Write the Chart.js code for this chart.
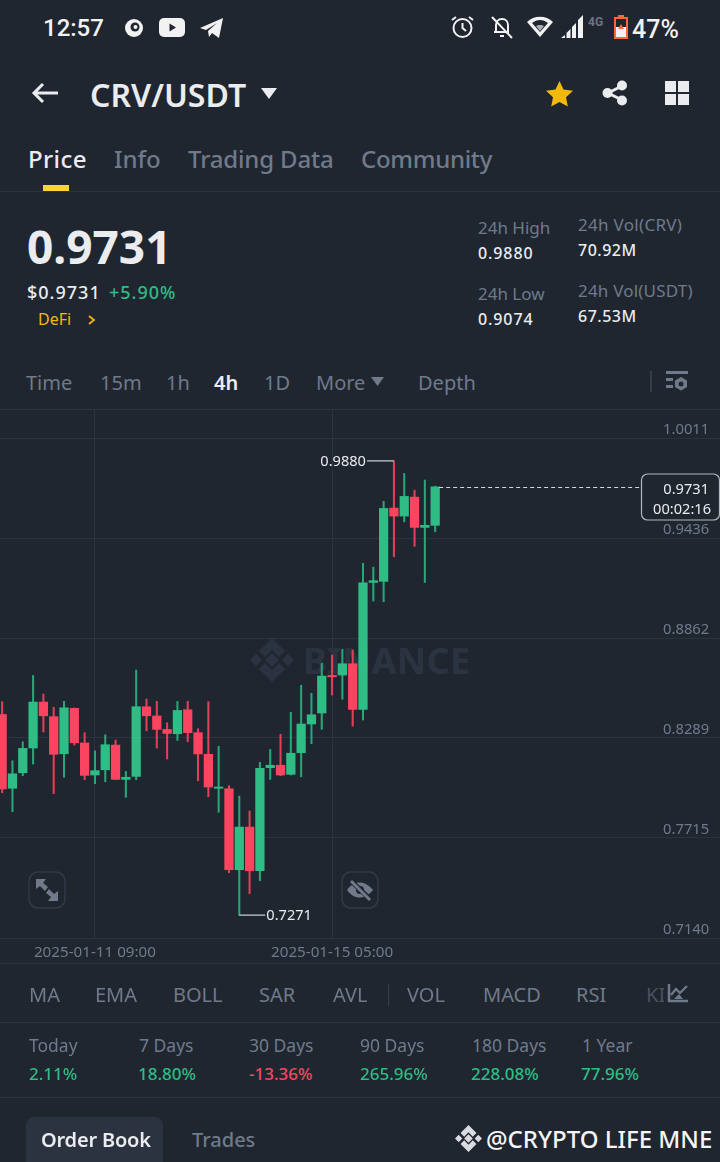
<!DOCTYPE html>
<html><head><meta charset="utf-8">
<style>
html,body{margin:0;padding:0;background:#1f2630;}
body{width:720px;height:1162px;overflow:hidden;position:relative;font-family:"Noto Sans",sans-serif;}
.t{position:absolute;white-space:nowrap;transform:translateY(-50%);line-height:1;}
.s{position:absolute;height:1px;left:0;width:720px;background:#2c3340;}
.g{color:#707a8a}.w{color:#eaecef}.up{color:#2ebd85}.dn{color:#f6465d}
svg{position:absolute;overflow:visible}
canvas{position:absolute;left:-3px;top:409px;}
</style></head><body>

<div class="t" style="left:43px;top:28px;font:500 24px Roboto;color:#f2f2f2">12:57</div>
<svg style="left:124px;top:18px" width="20" height="20" viewBox="0 0 20 20"><circle cx="10" cy="10" r="9" fill="#f2f2f2"/><circle cx="11" cy="9" r="4.5" fill="#1f2630"/><circle cx="11.5" cy="9" r="2" fill="#f2f2f2"/></svg>
<svg style="left:159px;top:18px" width="26" height="19" viewBox="0 0 26 19"><rect width="26" height="19" rx="5" fill="#f2f2f2"/><path d="M10.500 5.500L17 9.500L10.500 13.500Z" fill="#1f2630"/></svg>
<svg style="left:200px;top:18px" width="23" height="20" viewBox="0 0 23 20"><path d="M0 10L23 0L19 20L12 15L9 19L8 13L17 5L6 12Z" fill="#f2f2f2"/></svg>
<svg style="left:451px;top:15px" width="24" height="24" viewBox="0 0 24 24" fill="none" stroke="#f2f2f2" stroke-width="2"><circle cx="11.500" cy="13" r="9"/><path d="M11.500 8V13L15 16M1 5L5 2M22 5L18 2"/></svg>
<svg style="left:491px;top:15px" width="22" height="24" viewBox="0 0 22 24" fill="none" stroke="#f2f2f2" stroke-width="2"><path d="M5 17V10C5 7 7 4 11 4C15 4 17 7 17 10V17H3M9 21H13M1 2L21 23"/></svg>
<svg style="left:527px;top:15px" width="26" height="22" viewBox="0 0 26 22"><path d="M0 7C7 0 19 0 26 7L13 22Z" fill="#f2f2f2"/><path d="M5 8C10 4 16 4 21 8L13 17Z" fill="#1f2630"/><path d="M9 11C11 9.500 15 9.500 17 11L13 16Z" fill="#aab0b8"/></svg>
<svg style="left:561px;top:15px" width="23" height="23" viewBox="0 0 23 23"><path d="M0 23L4 20V23ZM5.500 23V18L9.500 14V23ZM11 23V12L15 8V23ZM17 23V5L22 0V23Z" fill="#f2f2f2"/></svg>
<div class="t" style="left:588px;top:22px;font:700 12px Roboto;color:#6d7480">4G</div>
<svg style="left:614px;top:15px" width="14" height="24" viewBox="0 0 14 24"><path d="M4 0H10V2H14V24H0V2H4Z" fill="#f4683c"/><rect x="2" y="4" width="10" height="8" fill="#1f2630"/><rect x="2" y="12" width="10" height="10" fill="#f2f2f2"/><path d="M7 9L10 14H4Z" fill="#f4683c"/></svg>
<div class="t" style="left:632px;top:29px;font:500 25px Roboto;color:#f2f2f2">47%</div>

<svg style="left:32px;top:82px" width="26" height="22" viewBox="0 0 26 22" fill="none" stroke="#eaecef" stroke-width="3"><path d="M26 11H2M11 2L2 11L11 20"/></svg>
<div class="t" style="left:90px;top:94px;font:600 32px 'Noto Sans';color:#eaecef">CRV/USDT</div>
<svg style="left:261px;top:88px" width="16" height="11" viewBox="0 0 16 11"><path d="M0 0H16L8 11Z" fill="#eaecef"/></svg>
<svg style="left:546px;top:80px" width="27" height="27" viewBox="0 0 27 27"><path d="M13.500 1L17.500 9.500L27 10.800L20 17.300L21.800 26.500L13.500 22L5.200 26.500L7 17.300L0 10.800L9.500 9.500Z" fill="#f0b90b"/></svg>
<svg style="left:602px;top:80px" width="26" height="26" viewBox="0 0 26 26"><path d="M20 6L6 13L20 20" stroke="#eaecef" stroke-width="3" fill="none"/><circle cx="20" cy="5.500" r="5" fill="#eaecef"/><circle cx="5.500" cy="13" r="5" fill="#eaecef"/><circle cx="20" cy="20.500" r="5" fill="#eaecef"/></svg>
<svg style="left:665px;top:81px" width="24" height="24" viewBox="0 0 24 24"><path d="M0 0H11V11H0ZM13 0H24V11H13ZM0 13H11V24H0ZM13 13H24V24H13Z" fill="#eaecef"/></svg>

<div class="t w" style="left:28px;top:158px;font:500 24px 'Noto Sans';letter-spacing:.4px">Price</div>
<div class="t g" style="left:114px;top:158px;font:500 24px 'Noto Sans'">Info</div>
<div class="t g" style="left:188px;top:158px;font:500 24px 'Noto Sans';letter-spacing:-.15px">Trading Data</div>
<div class="t g" style="left:361px;top:158px;font:500 24px 'Noto Sans';letter-spacing:-.3px">Community</div>
<div style="position:absolute;left:43px;top:185px;width:26px;height:6px;background:#fcd535"></div>
<div class="s" style="top:191px"></div>

<div class="t" style="left:27px;top:246px;font:700 46px 'Noto Sans';color:#eaecef">0.9731</div>
<div class="t w" style="left:27px;top:292px;font:500 18px 'Noto Sans';letter-spacing:1px">$0.9731</div>
<div class="t up" style="left:109px;top:292px;font:500 18px 'Noto Sans';letter-spacing:1px">+5.90%</div>
<div class="t" style="left:38px;top:319px;font:400 16px 'Noto Sans';color:#f0b90b">DeFi</div>
<svg style="left:88px;top:315px" width="7" height="10" viewBox="0 0 7 10" fill="none" stroke="#f0b90b" stroke-width="1.800"><path d="M1 1L6 5L1 9"/></svg>
<div class="t g" style="left:478px;top:227px;font:400 17px 'Noto Sans'">24h High</div>
<div class="t w" style="left:478px;top:253px;font:500 16px 'Noto Sans';letter-spacing:.9px">0.9880</div>
<div class="t g" style="left:478px;top:293px;font:400 17px 'Noto Sans'">24h Low</div>
<div class="t w" style="left:478px;top:319px;font:500 16px 'Noto Sans';letter-spacing:.9px">0.9074</div>
<div class="t g" style="left:578px;top:224px;font:400 17px 'Noto Sans';letter-spacing:.3px">24h Vol(CRV)</div>
<div class="t w" style="left:578px;top:250px;font:500 16px 'Noto Sans';letter-spacing:.5px">70.92M</div>
<div class="t g" style="left:578px;top:290px;font:400 17px 'Noto Sans';letter-spacing:.2px">24h Vol(USDT)</div>
<div class="t w" style="left:578px;top:316px;font:500 16px 'Noto Sans';letter-spacing:.5px">67.53M</div>

<div class="t g" style="left:26px;top:382px;font:400 20px 'Noto Sans'">Time</div>
<div class="t g" style="left:100px;top:382px;font:400 20px 'Noto Sans'">15m</div>
<div class="t g" style="left:166px;top:382px;font:400 20px 'Noto Sans'">1h</div>
<div class="t w" style="left:214px;top:382px;font:600 20px 'Noto Sans'">4h</div>
<div class="t g" style="left:264px;top:382px;font:400 20px 'Noto Sans'">1D</div>
<div class="t g" style="left:316px;top:382px;font:400 20px 'Noto Sans'">More</div>
<svg style="left:371px;top:377px" width="13" height="9" viewBox="0 0 13 9"><path d="M0 0H13L6.500 9Z" fill="#707a8a"/></svg>
<div class="t g" style="left:418px;top:382px;font:400 20px 'Noto Sans'">Depth</div>
<div style="position:absolute;left:650px;top:371px;width:2px;height:21px;background:#363d4a"></div>
<svg style="left:666px;top:371px" width="22" height="22" viewBox="0 0 22 22"><path d="M0 0H22V3H0ZM0 7H7V10H0ZM0 14H7V17H0Z" fill="#707a8a"/><path d="M15 6L21 9.500V16L15 19.500L9 16V9.500Z" fill="#707a8a"/><circle cx="15" cy="13" r="2.500" fill="#1f2630"/></svg>
<div class="s" style="top:409px"></div>

<div class="t" style="left:303px;top:660px;font:700 36px 'Noto Sans';letter-spacing:.4px;color:#2c3340">BINANCE</div>
<svg style="left:250px;top:638px" width="44" height="44" viewBox="0 0 44 44" fill="#2c3340"><path d="M22 0L35 13L29 19L22 12L15 19L9 13ZM22 44L9 31L15 25L22 32L29 25L35 31ZM0 22L6 16L12 22L6 28ZM32 22L38 16L44 22L38 28ZM22 15L29 22L22 29L15 22Z"/></svg>

<canvas id="kline" width="732" height="554" style="width:732px;height:554px"></canvas>

<svg style="left:28px;top:871px" width="38" height="38" viewBox="0 0 38 38"><rect x="1" y="1" width="36" height="36" rx="9" fill="#1f2630" fill-opacity=".7" stroke="#333a47" stroke-width="1.500"/><path d="M8 8H18L15 12L20 16L17 20L12 15L8 18ZM30 30H20L23 26L18 22L21 18L26 23L30 20Z" fill="#707a8a"/></svg>
<svg style="left:341px;top:871px" width="38" height="38" viewBox="0 0 38 38"><rect x="1" y="1" width="36" height="36" rx="9" fill="#1f2630" fill-opacity=".7" stroke="#333a47" stroke-width="1.500"/><path d="M6 19C13 9 24 9 32 19C24 29 13 29 6 19Z" fill="#707a8a"/><circle cx="19" cy="19" r="4" fill="#1f2630"/><path d="M9 9L30 29" stroke="#1f2630" stroke-width="5"/><path d="M10 10L29 29" stroke="#707a8a" stroke-width="3"/></svg>

<div class="s" style="top:963px"></div>
<div class="t g" style="left:29px;top:994px;font:400 20px 'Noto Sans'">MA</div>
<div class="t g" style="left:95px;top:994px;font:400 20px 'Noto Sans'">EMA</div>
<div class="t g" style="left:173px;top:994px;font:400 20px 'Noto Sans'">BOLL</div>
<div class="t g" style="left:259px;top:994px;font:400 20px 'Noto Sans'">SAR</div>
<div class="t g" style="left:333px;top:994px;font:400 20px 'Noto Sans'">AVL</div>
<div style="position:absolute;left:388px;top:984px;width:1px;height:22px;background:#363d4a"></div>
<div class="t g" style="left:407px;top:994px;font:400 20px 'Noto Sans'">VOL</div>
<div class="t g" style="left:483px;top:994px;font:400 20px 'Noto Sans'">MACD</div>
<div class="t g" style="left:576px;top:994px;font:400 20px 'Noto Sans'">RSI</div>
<div class="t" style="left:646px;top:994px;font:400 20px 'Noto Sans';color:#4a515e">KI</div>
<div style="position:absolute;left:664px;top:980px;width:30px;height:26px;background:#1f2630"></div>
<svg style="left:668px;top:984px" width="20" height="19" viewBox="0 0 20 19"><path d="M1 0V17H20" stroke="#707a8a" stroke-width="2.500" fill="none"/><path d="M3 11L8 5L12 9L19 2" stroke="#707a8a" stroke-width="2.200" fill="none"/><path d="M6 15L11 10L15 15Z" fill="#707a8a"/></svg>
<div class="s" style="top:1022px"></div>

<div class="t g" style="left:29px;top:1045px;font:400 17.500px 'Noto Sans'">Today</div>
<div class="t up" style="left:29px;top:1073px;font:500 17px 'Noto Sans'">2.11%</div>
<div class="t g" style="left:139px;top:1045px;font:400 17.500px 'Noto Sans'">7 Days</div>
<div class="t up" style="left:138px;top:1073px;font:500 17px 'Noto Sans'">18.80%</div>
<div class="t g" style="left:249px;top:1045px;font:400 17.500px 'Noto Sans'">30 Days</div>
<div class="t dn" style="left:249px;top:1073px;font:500 17px 'Noto Sans'">-13.36%</div>
<div class="t g" style="left:360px;top:1045px;font:400 17.500px 'Noto Sans'">90 Days</div>
<div class="t up" style="left:360px;top:1073px;font:500 17px 'Noto Sans'">265.96%</div>
<div class="t g" style="left:472px;top:1045px;font:400 17.500px 'Noto Sans'">180 Days</div>
<div class="t up" style="left:471px;top:1073px;font:500 17px 'Noto Sans'">228.08%</div>
<div class="t g" style="left:582px;top:1045px;font:400 17.500px 'Noto Sans'">1 Year</div>
<div class="t up" style="left:581px;top:1073px;font:500 17px 'Noto Sans'">77.96%</div>
<div class="s" style="top:1097px"></div>

<div style="position:absolute;left:26px;top:1117px;width:137px;height:60px;border-radius:8px;background:#2b3340"></div>
<div class="t w" style="left:41px;top:1139px;font:600 20px 'Noto Sans';letter-spacing:-.2px">Order Book</div>
<div class="t g" style="left:192px;top:1139px;font:500 20px 'Noto Sans'">Trades</div>
<svg style="left:455px;top:1125px" width="27" height="27" viewBox="0 0 44 44" fill="#d8dbe0"><path d="M22 0L35 13L29 19L22 12L15 19L9 13ZM22 44L9 31L15 25L22 32L29 25L35 31ZM0 22L6 16L12 22L6 28ZM32 22L38 16L44 22L38 28ZM22 15L29 22L22 29L15 22Z"/></svg>
<div class="t" style="left:486px;top:1138px;font:500 24px 'Noto Sans';color:#f5f5f5">@CRYPTO LIFE MNE</div>

<script src="https://cdn.jsdelivr.net/npm/chart.js@4/dist/chart.umd.js"></script>
<script>
const candleTimes = [
 '2025-01-09 21:00','2025-01-10 01:00','2025-01-10 05:00','2025-01-10 09:00','2025-01-10 13:00','2025-01-10 17:00','2025-01-10 21:00',
 '2025-01-11 01:00','2025-01-11 05:00','2025-01-11 09:00','2025-01-11 13:00','2025-01-11 17:00','2025-01-11 21:00',
 '2025-01-12 01:00','2025-01-12 05:00','2025-01-12 09:00','2025-01-12 13:00','2025-01-12 17:00','2025-01-12 21:00',
 '2025-01-13 01:00','2025-01-13 05:00','2025-01-13 09:00','2025-01-13 13:00','2025-01-13 17:00','2025-01-13 21:00',
 '2025-01-14 01:00','2025-01-14 05:00','2025-01-14 09:00','2025-01-14 13:00','2025-01-14 17:00','2025-01-14 21:00',
 '2025-01-15 01:00','2025-01-15 05:00','2025-01-15 09:00','2025-01-15 13:00','2025-01-15 17:00','2025-01-15 21:00',
 '2025-01-16 01:00','2025-01-16 05:00','2025-01-16 09:00','2025-01-16 13:00','2025-01-16 17:00','2025-01-16 21:00'];
const opens  = [.8424,.8000,.8089,.8231,.8495,.8411,.8198,.8459,.8260,.8076,.8106,.8248,.8051,.8068,.8468,.8415,.8338,.8313,.8451,.8319,.8195,.8000,.7997,.7532,.7777,.7526,.8118,.8132,.8080,.8204,.8369,.8432,.8648,.8650,.8715,.8453,.9182,.9188,.9609,.9563,.9672,.9498,.9510];
const closes = [.7996,.8083,.8229,.8495,.8416,.8195,.8462,.8261,.8074,.8101,.8250,.8051,.8063,.8468,.8416,.8338,.8315,.8447,.8319,.8197,.8007,.8007,.7532,.7777,.7526,.8114,.8132,.8076,.8201,.8369,.8422,.8644,.8640,.8715,.8453,.9180,.9192,.9607,.9563,.9676,.9498,.9510,.9731];
const highs  = [.8497,.8158,.8267,.8648,.8541,.8465,.8499,.8461,.8319,.8215,.8307,.8277,.8097,.8679,.8512,.8499,.8376,.8499,.8499,.8342,.8497,.8241,.8015,.7955,.7869,.8149,.8223,.8310,.8436,.8591,.8545,.8717,.8765,.8798,.8794,.9292,.9270,.9648,.9880,.9808,.9712,.9770,.9735];
const lows   = [.7974,.7865,.8072,.8139,.8323,.7969,.8063,.8248,.8049,.8026,.8037,.8049,.7948,.8049,.8330,.8231,.8168,.8275,.8267,.8043,.7951,.7862,.7515,.7271,.7394,.7469,.8051,.8072,.8076,.8066,.8256,.8338,.8535,.8511,.8357,.8392,.9075,.9071,.9329,.9530,.9389,.9182,.9473];
const priceTicks = [1.0011,.9436,.8862,.8289,.7715,.7140];
const timeTicks = ['2025-01-11 09:00','2025-01-15 05:00'];
const emptySlots = 28;
const countdown = '00:02:16';

const GREEN='#2ebd85', RED='#fb4560', GRID='#2c3340', AXIS='#707a8a';
const dir = i => closes[i] >= opens[i] ? GREEN : RED;
const wickDir = i => closes[i] >= opens[i] ? '#27a678' : '#e23f58';
const labels = [...candleTimes, ...Array(emptySlots).fill('')];

const priceMarks = {
  id:'priceMarks',
  afterDatasetsDraw(chart){
    const {ctx,scales:{x,y}} = chart;
    ctx.save();
    ctx.font = '14.6px "Noto Sans"';
    ctx.textBaseline = 'middle';
    const high = Math.max(...highs), low = Math.min(...lows);
    const hx = x.getPixelForValue(highs.indexOf(high)), hy = y.getPixelForValue(high);
    const lx = x.getPixelForValue(lows.indexOf(low)), ly = y.getPixelForValue(low);
    ctx.strokeStyle = '#c8ccd2'; ctx.lineWidth = 1.2;
    ctx.beginPath(); ctx.moveTo(hx,hy); ctx.lineTo(hx-27,hy); ctx.moveTo(lx,ly); ctx.lineTo(lx+26,ly); ctx.stroke();
    ctx.fillStyle = '#eaecef';
    ctx.textAlign = 'right'; ctx.fillText(high.toFixed(4), hx-28, hy+1);
    ctx.textAlign = 'left';  ctx.fillText(low.toFixed(4), lx+27, ly+1);
    const last = closes[closes.length-1], py = Math.round(y.getPixelForValue(last));
    const px = x.getPixelForValue(closes.length-1);
    ctx.setLineDash([4,3]); ctx.strokeStyle='#d5d8dc'; ctx.lineWidth=1;
    ctx.beginPath(); ctx.moveTo(px+4,py+.5); ctx.lineTo(644,py+.5); ctx.stroke();
    ctx.setLineDash([]);
    ctx.beginPath(); ctx.roundRect(644.500,py-13,78,46,6);
    ctx.fillStyle='#1f2630'; ctx.fill(); ctx.strokeStyle='#b4b8be'; ctx.lineWidth=1.2; ctx.stroke();
    ctx.fillStyle='#eaecef'; ctx.textAlign='right';
    ctx.fillText(last.toFixed(4), 712, py+3);
    ctx.fillText(countdown, 714, py+23);
    ctx.restore();
  }
};

new Chart(document.getElementById('kline'),{
  type:'bar',
  data:{labels,datasets:[
    {label:'Body',data:opens.map((o,i)=>[o,closes[i]]),backgroundColor:c=>dir(c.dataIndex),barThickness:8.6,grouped:false,borderSkipped:false},
    {label:'Wick',data:lows.map((l,i)=>[l,highs[i]]),backgroundColor:c=>wickDir(c.dataIndex),barThickness:1.4,grouped:false,borderSkipped:false}
  ]},
  options:{
    responsive:false,animation:false,devicePixelRatio:1,
    layout:{padding:0},
    plugins:{legend:{display:false},tooltip:{enabled:false}},
    events:[],
    scales:{
      x:{type:'category',offset:true,
         grid:{color:GRID,offset:false,drawTicks:false,lineWidth:1},border:{display:false},
         afterBuildTicks:s=>{s.ticks=s.ticks.filter(t=>timeTicks.includes(labels[t.value]));},
         afterFit:s=>{s.height=25;s.paddingLeft=0;s.paddingRight=0;},
         ticks:{autoSkip:false,maxRotation:0,minRotation:0,padding:6,color:AXIS,font:{family:'"Noto Sans"',size:15.2}}},
      y:{type:'linear',position:'left',min:.7140,max:1.0178,
         grid:{color:GRID,drawTicks:false,lineWidth:1},border:{display:false},
         afterBuildTicks:s=>{s.ticks=priceTicks.map(v=>({value:v}));},
         afterFit:s=>{s.width=0;s.paddingTop=0;s.paddingBottom=0;},
         ticks:{mirror:true,padding:666,labelOffset:-8,color:AXIS,font:{family:'"Noto Sans"',size:14.8},callback:v=>v.toFixed(4)}}
    }
  },
  plugins:[priceMarks]
});
</script>
</body></html>
